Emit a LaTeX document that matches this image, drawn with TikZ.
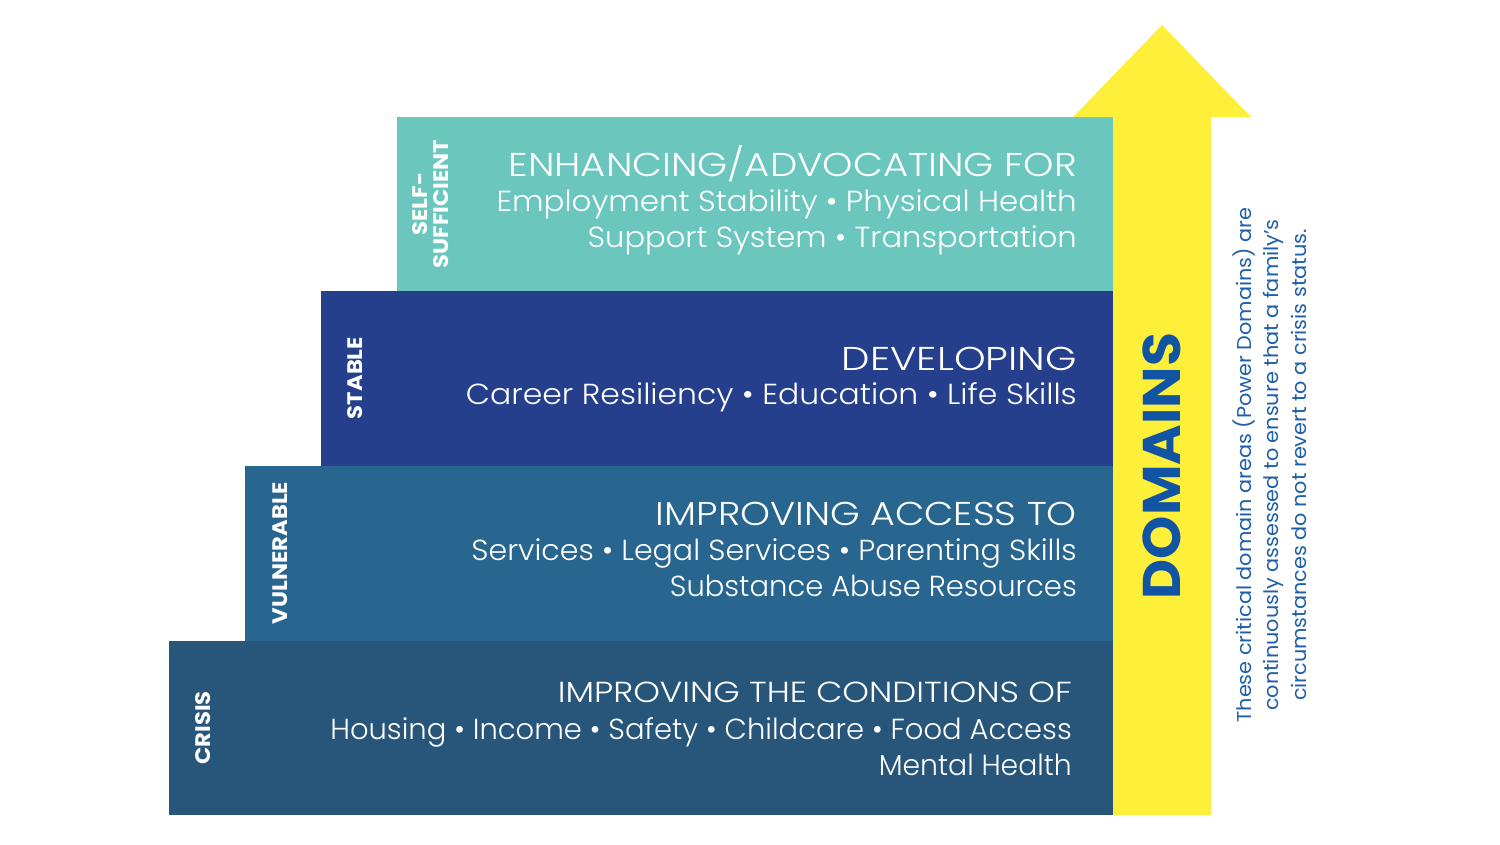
\documentclass[tikz,border=0pt]{standalone}
\usepackage{fontspec}
\newfontfamily\lightf{Poppins Light}
\newfontfamily\labf{Poppins}[FakeStretch=1.08]
\newfontfamily\stretchf{Poppins}[FakeStretch=1.04]
\definecolor{tealc}{HTML}{6BC7BE}
\definecolor{stablec}{HTML}{253F8C}
\definecolor{vulnc}{HTML}{28668F}
\definecolor{crisisc}{HTML}{28567A}
\definecolor{yelc}{HTML}{FDEF3A}
\definecolor{domc}{HTML}{1154A3}
\definecolor{sidec}{HTML}{1E5FA8}
\tikzset{
  head/.style={anchor=base east, text=white, inner sep=0pt, font=\lightf\fontsize{33}{36}\selectfont},
  body/.style={anchor=base east, text=white, inner sep=0pt, font=\lightf\fontsize{29}{36}\selectfont},
  lvl/.style={rotate=90, text=white, inner sep=0pt, align=center, font=\labf\bfseries\fontsize{21}{21}\selectfont},
}
\begin{document}
\begin{tikzpicture}[x=1pt,y=-1pt]
\useasboundingbox (0,0) rectangle (1500,844);
% boxes
\fill[tealc] (397,117) rectangle (1113,291);
\fill[stablec] (321,291) rectangle (1113,466);
\fill[vulnc] (245,466) rectangle (1113,641);
\fill[crisisc] (169,641) rectangle (1113,815);
% arrow
\fill[yelc] (1113,815) -- (1113,117) -- (1073,117) -- (1162,25) -- (1251,117) -- (1211,117) -- (1211,815) -- cycle;
% level labels
\node[lvl] (lself) at (431,204) {SELF-\\SUFFICIENT};
\node[lvl] (lstable) at (355,378) {STABLE};
\node[lvl] (lvuln) at (280,553) {VULNERABLE};
\node[lvl] (lcrisis) at (203,728) {CRISIS};
% self-sufficient text
\node[head, xscale=1.171] (s1) at (1077,176.7) {ENHANCING/ADVOCATING FOR};
\node[body, xscale=1.066] (s2) at (1077,211) {Employment Stability • Physical Health};
\node[body, xscale=1.054] (s3) at (1077,247) {Support System • Transportation};
% stable text
\node[head, xscale=1.22] (t1) at (1077,370) {DEVELOPING};
\node[body, xscale=1.085] (t2) at (1077,404) {Career Resiliency • Education • Life Skills};
% vulnerable text
\node[head, xscale=1.153] (v1) at (1077,525) {IMPROVING ACCESS TO};
\node[body, xscale=1.036] (v2) at (1077,560) {Services • Legal Services • Parenting Skills};
\node[body] (v3) at (1077,596) {Substance Abuse Resources};
% crisis text
\node[body, xscale=1.17] (c1) at (1072,702.3) {IMPROVING THE CONDITIONS OF};
\node[body] (c2) at (1072,739) {Housing • Income • Safety • Childcare • Food Access};
\node[body, xscale=0.975] (c3) at (1072,775) {Mental Health};
% domains
\node[rotate=90, text=domc, inner sep=0pt, font=\stretchf\bfseries\fontsize{53}{53}\selectfont] (dom) at (1162,466) {DOMAINS};
\node[rotate=90, text=sidec, inner sep=0pt, align=center, font=\stretchf\fontsize{20}{27.5}\selectfont] (note) at (1269.5,465) {These critical domain areas (Power Domains) are\\continuously assessed to ensure that a family’s\\circumstances do not revert to a crisis status.};
\end{tikzpicture}
\end{document}
